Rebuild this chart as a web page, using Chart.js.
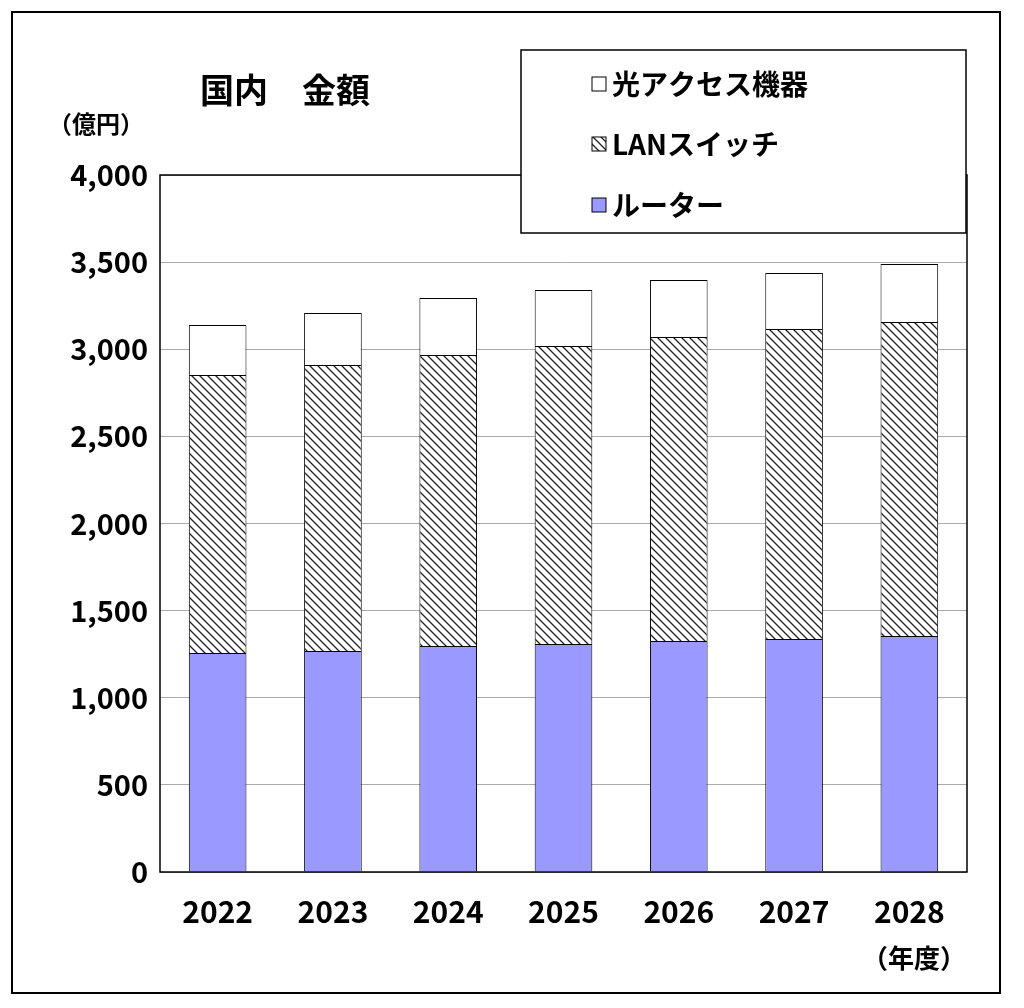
<!DOCTYPE html>
<html><head><meta charset="utf-8">
<script src="https://cdn.jsdelivr.net/npm/chart.js@4"></script>
<style>body{margin:0;background:#fff}#wrap{width:1024px;height:1008px}</style>
</head><body><div id="wrap"><canvas id="c" width="1024" height="1008"></canvas></div>
<script>
// data (億円)
const years = ["2022", "2023", "2024", "2025", "2026", "2027", "2028"];
const router = [1257, 1268, 1297, 1308, 1326, 1337, 1354];
const lanSwitch = [1595, 1642, 1670, 1711, 1744, 1779, 1803];
const optical = [287, 298, 327, 321, 328, 322, 332];
const seriesNames = ["光アクセス機器", "LANスイッチ", "ルーター"];
const FONT = '"Noto Sans CJK JP", "Noto Sans", sans-serif';

// diagonal hatch for the LAN switch series
function hatch() {
    const p = document.createElement("canvas");
    p.width = 8; p.height = 8;
    const g = p.getContext("2d");
    g.fillStyle = "#fff"; g.fillRect(0, 0, 8, 8);
    g.strokeStyle = "#222"; g.lineWidth = 1.3;
    g.beginPath();
    g.moveTo(0, 0); g.lineTo(8, 8);
    g.moveTo(-4, 4); g.lineTo(4, 12);
    g.moveTo(4, -4); g.lineTo(12, 4);
    g.stroke();
    return g.createPattern(p, "repeat");
}
const hatchFill = hatch();

const decor = {
    id: "decor",
    afterDraw(chart) {
        const ctx = chart.ctx, a = chart.chartArea;
        ctx.save();
        // plot border
        ctx.strokeStyle = "#000"; ctx.lineWidth = 1.5;
        ctx.strokeRect(a.left, a.top, a.right - a.left, a.bottom - a.top);
        // outer frame
        ctx.lineWidth = 2;
        ctx.strokeRect(12, 12, 988, 981);
        // titles
        ctx.fillStyle = "#000";
        ctx.font = "bold 34px " + FONT;
        ctx.textBaseline = "middle";
        ctx.fillText("国内　金額", 200, 90);
        ctx.font = "bold 24px " + FONT;
        ctx.fillText("（億円）", 48, 124);
        ctx.font = "bold 26px " + FONT;
        ctx.fillText("（年度）", 862, 958);
        // legend box
        ctx.fillStyle = "#fff";
        ctx.fillRect(521, 50, 445, 183);
        ctx.lineWidth = 1.5;
        ctx.strokeRect(521, 50, 445, 183);
        const fills = ["#fff", hatchFill, "#9999ff"];
        const ys = [84, 144, 205];
        ctx.font = "bold 28px " + FONT;
        for (let i = 0; i < 3; i++) {
            ctx.fillStyle = fills[i];
            ctx.fillRect(592, ys[i] - 7, 14, 14);
            ctx.lineWidth = 1;
            ctx.strokeRect(592, ys[i] - 7, 14, 14);
            ctx.fillStyle = "#000";
            ctx.fillText(seriesNames[i], 612, ys[i]);
        }
        ctx.restore();
    }
};

const common = { borderColor: "#000", borderWidth: 1, barPercentage: 0.5, categoryPercentage: 1 };

new Chart(document.getElementById("c"), {
    type: "bar",
    data: {
        labels: years,
        datasets: [
            { label: seriesNames[2], data: router, backgroundColor: "#9999ff", ...common },
            { label: seriesNames[1], data: lanSwitch, backgroundColor: hatchFill, ...common },
            { label: seriesNames[0], data: optical, backgroundColor: "#fff", ...common }
        ]
    },
    options: {
        responsive: false,
        animation: false,
        layout: { padding: { left: 10, right: 57, top: 175, bottom: 36 } },
        plugins: { legend: { display: false }, tooltip: { enabled: false } },
        scales: {
            x: {
                stacked: true,
                grid: { display: false },
                border: { display: false },
                ticks: { color: "#000", font: { family: FONT, size: 30, weight: "bold" }, padding: 14 },
                afterFit(s) { s.height = 100; }
            },
            y: {
                stacked: true,
                min: 0, max: 4000,
                grid: { color: "#aaa", lineWidth: 1, drawTicks: false },
                border: { display: false },
                ticks: {
                    stepSize: 500, color: "#000", padding: 12,
                    font: { family: FONT, size: 29, weight: "bold" },
                    callback: v => v.toLocaleString("en-US")
                },
                afterFit(s) { s.width = 150; }
            }
        }
    },
    plugins: [decor]
});
</script></body></html>
